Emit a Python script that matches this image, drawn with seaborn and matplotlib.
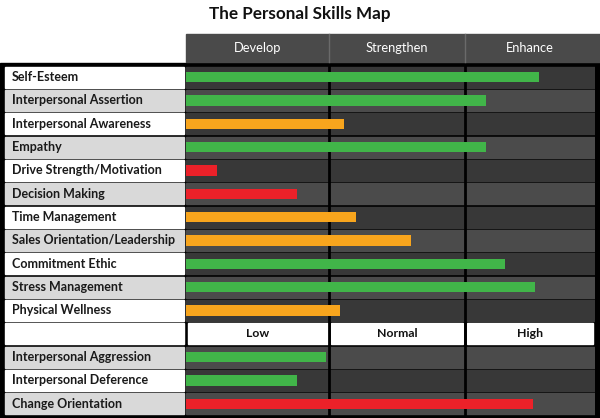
import pandas as pd
import matplotlib.pyplot as plt
import seaborn as sns
from matplotlib.patches import Rectangle

# data
top_skills = ["Self-Esteem", "Interpersonal Assertion", "Interpersonal Awareness", "Empathy",
              "Drive Strength/Motivation", "Decision Making", "Time Management",
              "Sales Orientation/Leadership", "Commitment Ethic", "Stress Management",
              "Physical Wellness"]
top_scores = [86.4, 73.3, 38.6, 73.3, 7.7, 27.2, 41.6, 54.9, 78.1, 85.4, 37.7]
top_levels = ["good", "good", "mid", "good", "low", "low", "mid", "mid", "good", "good", "mid"]

bottom_skills = ["Interpersonal Aggression", "Interpersonal Deference", "Change Orientation"]
bottom_scores = [34.2, 27.1, 84.8]
bottom_levels = ["good", "good", "low"]

top_headers = ["Develop", "Strengthen", "Enhance"]
scale_labels = ["Low", "Normal", "High"]
bands = [0, 35, 68.2, 100]

level_colors = {"good": "#41b549", "mid": "#f8a51d", "low": "#ec2129"}

df = pd.DataFrame({
    "skill": top_skills + bottom_skills,
    "score": top_scores + bottom_scores,
    "level": top_levels + bottom_levels,
})
order = top_skills + ["scale"] + bottom_skills

plt.rcParams['font.family'] = ['Lato', 'DejaVu Sans']
fig = plt.figure(figsize=(6, 4.18), dpi=100)
W, H = 600, 418

# black frame of the table
fig.add_artist(Rectangle((0, 0), 1, (H - 63) / H, transform=fig.transFigure,
                         color="black", zorder=0))

ax = fig.add_axes([186 / W, 2.5 / H, 409 / W, 350 / H])
ax.set_facecolor("black")

sns.barplot(data=df, x="score", y="skill", hue="level", order=order,
            palette=level_colors, saturation=1, width=0.45, legend=False,
            ax=ax, zorder=5, edgecolor="none")

ax.set_xlim(0, 100)
ax.set_ylim(len(order) - 0.5, -0.5)
for s in ax.spines.values():
    s.set_visible(False)
ax.set_xticks([])
ax.set_yticks([])
ax.set_xlabel("")
ax.set_ylabel("")

lab_tr = ax.get_yaxis_transform()
for pos, name in enumerate(order):
    if name == "scale":
        for i, lab in enumerate(scale_labels):
            ax.add_patch(Rectangle((bands[i] + 0.4, pos - 0.45), bands[i + 1] - bands[i] - 0.8, 0.9,
                                   color="white", zorder=1))
            ax.text((bands[i] + bands[i + 1]) / 2, pos, lab, ha="center", va="center",
                    fontsize=8.8, fontweight="bold", color="#111111", zorder=6)
        ax.add_patch(Rectangle((-0.4425, pos - 0.45), 0.4365, 0.9, transform=lab_tr,
                               color="white", clip_on=False, zorder=1))
        continue
    if pos < 11:
        light = pos % 2 == 1
    else:
        light = (pos - 12) % 2 == 0
    ax.add_patch(Rectangle((0, pos - 0.45), 100, 0.9,
                           color="#4b4b4b" if light else "#383838", zorder=1))
    ax.add_patch(Rectangle((-0.4425, pos - 0.45), 0.4365, 0.9, transform=lab_tr,
                           color="#d9d9d9" if light else "white", clip_on=False, zorder=1))
    ax.text(-0.4254, pos, name, transform=lab_tr, ha="left", va="center",
            fontsize=9, fontweight="bold", color="#1a1a1a", zorder=6)

for b in bands[1:3]:
    ax.axvline(b, color="black", lw=2, zorder=2)

# header above the grid
hdr_tr = ax.get_xaxis_transform()
h0, h1 = 1 + 3.5 / 350, 1 + 31.5 / 350
ax.add_patch(Rectangle((0, h0), 101.3, h1 - h0, transform=hdr_tr,
                       color="#4a4a4a", clip_on=False, zorder=1))
for b in bands[1:3]:
    ax.plot([b, b], [h0, h1], transform=hdr_tr, color="#6a6a6a",
            lw=1, clip_on=False, zorder=2)
for i, lab in enumerate(top_headers):
    ax.text((bands[i] + bands[i + 1]) / 2, (h0 + h1) / 2, lab, transform=hdr_tr,
            ha="center", va="center", fontsize=9.3, color="white", zorder=6)

fig.text(0.5, 1 - 14 / H, "The Personal Skills Map", ha="center", va="center",
         fontsize=12.3, fontweight="bold", color="#111111")

fig.savefig("out.png", dpi=100)
